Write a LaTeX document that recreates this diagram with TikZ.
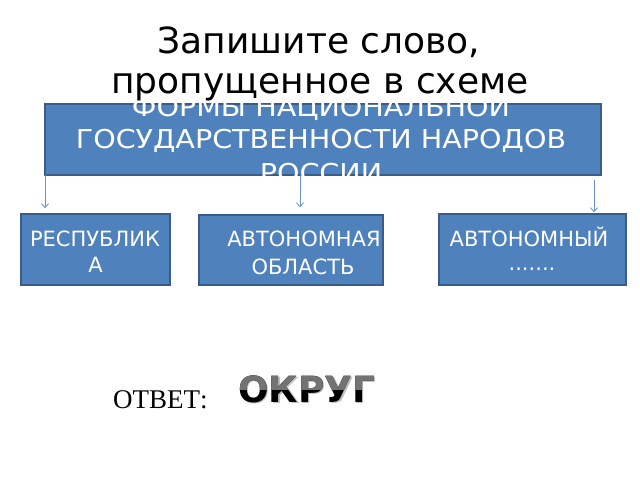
\documentclass[tikz,border=0pt]{standalone}
\usepackage{fontspec}
\setmainfont{DejaVu Sans}
\newfontfamily\serifru{Liberation Serif}
\newfontfamily\waf{DejaVu Sans}
\newfontfamily\widef[FakeStretch=1.10]{DejaVu Sans}
\usetikzlibrary{arrows.meta}
\definecolor{boxblue}{HTML}{4F81BD}
\definecolor{boxedge}{HTML}{385D8A}
\definecolor{arrblue}{HTML}{6592CB}
\tikzset{
  bluebox/.style={draw=boxedge, line width=1.5pt, fill=boxblue, rectangle, inner sep=0pt},
  ttl/.style={anchor=base, inner sep=0pt, font=\fontsize{36}{40}\selectfont, text=black},
  toptxt/.style={anchor=base, inner sep=0pt, font=\widef\fontsize{26}{32}\selectfont, text=white},
  lowtxt/.style={anchor=base, inner sep=0pt, font=\fontsize{21}{27}\selectfont, text=white},
  arr/.style={draw=arrblue, line width=0.8pt, -{Straight Barb[length=4pt,width=7pt]}},
  okr/.style={anchor=base west, inner sep=0pt, font=\waf\bfseries\fontsize{36}{40}\selectfont},
}
\begin{document}
\begin{tikzpicture}[x=1pt,y=-1pt]
\useasboundingbox (0,0) rectangle (640,480);
\fill[white] (0,0) rectangle (640,480);
% top box
\node[bluebox, minimum width=556pt, minimum height=71pt] (top) at (323,139.5) {};
\node[toptxt] (t1) at (321,116) {ФОРМЫ НАЦИОНАЛЬНОЙ};
\node[toptxt] (t2) at (321,148) {ГОСУДАРСТВЕННОСТИ НАРОДОВ};
\node[toptxt] (t3) at (321,182) {РОССИИ};
% white page around the box hides the overflowing text
\fill[white] (0,85) rectangle (640,{139.5-35.5-0.75});
\fill[white] (0,{139.5+35.5+0.75}) rectangle (640,200);
% lower boxes
\node[bluebox, minimum width=149pt, minimum height=71pt] (rep) at (95.5,249.5) {};
\node[bluebox, minimum width=184pt, minimum height=70pt] (obl) at (291,250) {};
\node[bluebox, minimum width=187pt, minimum height=71pt] (okr) at (532.5,249.5) {};
\node[lowtxt] (r1) at (95,246.7) {РЕСПУБЛИК};
\node[lowtxt] (r2) at (95.5,272.5) {А};
\node[lowtxt] (o1) at (304,246.7) {АВТОНОМНАЯ};
\node[lowtxt] (o2) at (303,274) {ОБЛАСТЬ};
\node[lowtxt] (k1) at (529,246.7) {АВТОНОМНЫЙ};
\node[lowtxt] (k2) at (532,270.7) {.......};
% title
\node[ttl] (ti1) at (319,53) {Запишите слово,};
\node[ttl] (ti2) at (320,93) {пропущенное в схеме};
% arrows
\coordinate (c1) at (45,175);
\coordinate (c2) at (300,175);
\coordinate (c3) at (594,180);
\draw[arr] (c1) -- ([yshift=5pt]c1 |- rep.north);
\draw[arr] (c2) -- ([yshift=7pt]c2 |- obl.north);
\draw[arr] (c3) -- ([yshift=1pt]c3 |- okr.north);
% answer
\node[anchor=base west, inner sep=0pt, font=\serifru\fontsize{27}{30}\selectfont] (ans) at (113,408) {ОТВЕТ:};
\node[okr, text=black!25] (wsh) at (239.5,403.5) {ОКРУГ};
\node[okr, text=black] (wrd) at (238,402) {ОКРУГ};
\begin{scope}
\clip (230,370) rectangle (380,389);
\node[okr, text=black!55] (wrdt) at (238,402) {ОКРУГ};
\end{scope}
\end{tikzpicture}
\end{document}
